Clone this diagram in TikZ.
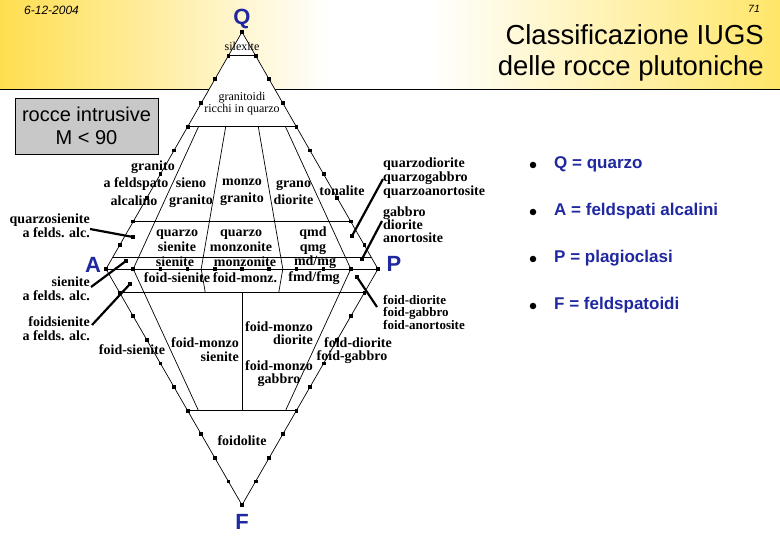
\documentclass[tikz,border=0pt]{standalone}
\usepackage{fontspec}
\setmainfont{Liberation Serif}
\newfontfamily\arialf{Liberation Sans}
\usetikzlibrary{calc}
\definecolor{hdryl}{RGB}{255,222,80}
\definecolor{hdryr}{RGB}{255,230,105}
\definecolor{qblue}{RGB}{32,40,160}
\definecolor{boxgray}{RGB}{200,200,200}
\begin{document}
\begin{tikzpicture}[x=1pt,y=-1pt,
  thinl/.style={line width=0.7pt},
  dotm/.style={fill=black,inner sep=0pt,minimum size=3.8pt,rectangle},
  lbl/.style={font=\fontsize{14}{17}\selectfont\bfseries, inner sep=0pt, align=center},
  lblsm/.style={font=\fontsize{12}{12}\selectfont, inner sep=0pt, align=center},
  lead/.style={line width=2.2pt},
  vtx/.style={font=\arialf\fontsize{22}{22}\selectfont\bfseries, text=qblue, inner sep=0pt},
  leg/.style={font=\arialf\fontsize{17}{17}\selectfont\bfseries, text=qblue, inner sep=0pt, anchor=west},
  bul/.style={circle, fill=black, inner sep=0pt, minimum size=6.5pt},
  ttl/.style={font=\arialf\fontsize{27.5}{33}\selectfont, inner sep=0pt, anchor=east},
]
\useasboundingbox (0,0) rectangle (780,540);
\fill[white] (0,0) rectangle (780,540);
% header
\shade[left color=hdryl, right color=white] (0,0) rectangle (330,89);
\fill[white] (330,0) rectangle (430,89);
\shade[left color=white, right color=hdryr] (430,0) rectangle (780,89);
\coordinate (hl) at (0,89);
\coordinate (hr) at (780,89);
\draw[line width=0.9pt] (hl) -- (hr);
\node[font=\arialf\itshape\fontsize{12}{12}\selectfont, anchor=west, inner sep=0pt] (date) at (24,10) {6-12-2004};
\node[font=\arialf\itshape\fontsize{10.5}{10.5}\selectfont, inner sep=0pt] (pg) at (754,9) {71};
\node[ttl] (t1) at (764,35) {Classificazione IUGS};
\node[ttl] (t2) at (764,68) {delle rocce plutoniche};
% gray box
\node[draw=black, fill=boxgray, line width=0.8pt, minimum width=143pt, minimum height=56pt, inner sep=0pt, align=center, font=\arialf\fontsize{20}{23}\selectfont] (box) at (86.5,126) {rocce intrusive\\M < 90};
% vertices
\coordinate (Q) at (242,32);
\coordinate (A) at (106,269);
\coordinate (P) at (378,269);
\coordinate (F) at (242,505);
\fill[white] (Q) -- (A) -- (F) -- (P) -- cycle;
\draw[thinl] (Q) -- (A) -- (F) -- (P) -- cycle;
\draw[thinl] (A) -- (P);
% horizontal lines
\foreach \q in {0.9,0.6,0.2,0.05} {
  \pgfmathsetmacro{\rest}{1-\q}
  \draw[thinl] (barycentric cs:Q=\q,A=\rest) -- (barycentric cs:Q=\q,P=\rest);
}
\foreach \f in {0.1,0.6} {
  \pgfmathsetmacro{\rest}{1-\f}
  \draw[thinl] (barycentric cs:F=\f,A=\rest) -- (barycentric cs:F=\f,P=\rest);
}
% radial lines
\draw[thinl] (barycentric cs:Q=0.6,A=0.36,P=0.04) -- (barycentric cs:A=0.9,P=0.1) -- (barycentric cs:F=0.6,A=0.36,P=0.04);
\draw[thinl] (barycentric cs:Q=0.6,A=0.26,P=0.14) -- (barycentric cs:A=0.65,P=0.35) -- (barycentric cs:F=0.1,A=0.585,P=0.315);
\draw[thinl] (barycentric cs:Q=0.6,A=0.14,P=0.26) -- (barycentric cs:A=0.35,P=0.65) -- (barycentric cs:F=0.1,A=0.315,P=0.585);
\draw[thinl] (barycentric cs:Q=0.6,A=0.04,P=0.36) -- (barycentric cs:A=0.1,P=0.9) -- (barycentric cs:F=0.6,A=0.04,P=0.36);
\draw[thinl] (barycentric cs:F=0.1,A=0.45,P=0.45) -- (barycentric cs:F=0.6,A=0.2,P=0.2);
% dots
\foreach \k in {0,...,10} {
  \node[dotm] at ($(Q)!\k/10!(A)$) {};
  \node[dotm] at ($(Q)!\k/10!(P)$) {};
  \node[dotm] at ($(F)!\k/10!(A)$) {};
  \node[dotm] at ($(F)!\k/10!(P)$) {};
  \node[dotm] at ($(A)!\k/10!(P)$) {};
}
% vertex letters
\node[vtx] (lQ) at (242,19) {Q};
\node[vtx] (lA) at (93,265) {A};
\node[vtx] (lP) at (394,264) {P};
\node[vtx] (lF) at (242,522) {F};
% field labels
\node[lblsm] (silex) at (242,46) {silexite};
\node[lblsm] (grq) at (242,103.5) {granitoidi\\ricchi in quarzo};
\node[lbl] (gaf1) at (153,167) {granito};
\node[lbl] (gaf2) at (136,184) {a feldspato};
\node[lbl] (gaf3) at (134,201) {alcalino};
\node[lbl] (sg) at (191,192.5) {sieno\\granito};
\node[lbl] (mg) at (242,192.5) {monzo\\granito};
\node[lbl] (gd) at (293.5,192.5) {grano\\diorite};
\node[lbl] (ton) at (342,191) {tonalite};
\node[lbl, font=\fontsize{14}{15}\selectfont\bfseries] (qs) at (177,240.5) {quarzo\\sienite};
\node[lbl, font=\fontsize{14}{15}\selectfont\bfseries] (qm) at (241,240.5) {quarzo\\monzonite};
\node[lbl, font=\fontsize{14}{15}\selectfont\bfseries] (qmd) at (313,240.5) {qmd\\qmg};
\node[lbl] (sie) at (175,262) {sienite};
\node[lbl] (mon) at (245,262) {monzonite};
\node[lbl] (mdmg) at (315,262) {md/mg};
\node[lbl] (fs) at (177,278) {foid-sienite};
\node[lbl] (fm) at (245,278) {foid-monz.};
\node[lbl] (fmd) at (314,278) {fmd/fmg};
\node[lbl] (fs2) at (132,350) {foid-sienite};
\node[lbl, align=right, anchor=east, font=\fontsize{14}{14}\selectfont\bfseries] (fms) at (239,350) {foid-monzo\\sienite};
\node[lbl, align=right, anchor=east, font=\fontsize{14}{13}\selectfont\bfseries] (fmdi) at (313,333.5) {foid-monzo\\diorite};
\node[lbl, font=\fontsize{14}{13}\selectfont\bfseries] (fmga) at (279,373.5) {foid-monzo\\gabbro};
\node[lbl] (fdi) at (358,343) {foid-diorite};
\node[lbl] (fga) at (352,357) {foid-gabbro};
\node[lbl] (foidol) at (242,441) {foidolite};
% outside labels with leaders
\node[lbl, align=right, anchor=east, font=\fontsize{14}{12}\selectfont\bfseries] (lqs) at (90,226) {quarzosienite\\a felds. alc.};
\node[lbl, align=right, anchor=east, font=\fontsize{14}{14}\selectfont\bfseries] (lsa) at (90,289) {sienite\\a felds. alc.};
\node[lbl, align=right, anchor=east, font=\fontsize{14}{14}\selectfont\bfseries] (lfsa) at (90,329) {foidsienite\\a felds. alc.};
\node[lbl, align=left, anchor=west, font=\fontsize{14}{12}\selectfont\bfseries] (lqd) at (383,178) {quarzodiorite\\quarzogabbro\\quarzoanortosite};
\node[lbl, align=left, anchor=west, font=\fontsize{14}{13}\selectfont\bfseries] (lgd) at (383,225) {gabbro\\diorite\\anortosite};
\node[lbl, align=left, anchor=west, font=\fontsize{13}{12.5}\selectfont\bfseries] (lfd) at (383,312) {foid-diorite\\foid-gabbro\\foid-anortosite};
\coordinate (s1) at (90,229);
\coordinate (e1) at (133,237);
\coordinate (s2) at (91,287);
\coordinate (e2) at (126,261);
\coordinate (s3) at (92,325);
\coordinate (e3) at (130,284);
\coordinate (s4) at (383,179);
\coordinate (e4) at (352,236);
\coordinate (s5) at (382,221);
\coordinate (e5) at (362,259);
\coordinate (s6) at (377,307);
\coordinate (e6) at (357,277);
\draw[lead] (s1) -- (e1);
\draw[lead] (s2) -- (e2);
\draw[lead] (s3) -- (e3);
\draw[lead] (s4) -- (e4);
\draw[lead] (s5) -- (e5);
\draw[lead] (s6) -- (e6);
\foreach \e in {e1,e2,e3,e4,e5,e6} { \node[dotm, minimum size=4.5pt] at (\e) {}; }
% legend
\node[bul] (b1) at (533,165) {};
\node[bul] (b2) at (533,212) {};
\node[bul] (b3) at (533,259) {};
\node[bul] (b4) at (533,306) {};
\node[leg] (g1) at (554,164) {Q = quarzo};
\node[leg] (g2) at (554,211) {A = feldspati alcalini};
\node[leg] (g3) at (554,258) {P = plagioclasi};
\node[leg] (g4) at (554,305) {F = feldspatoidi};
\end{tikzpicture}
\end{document}
